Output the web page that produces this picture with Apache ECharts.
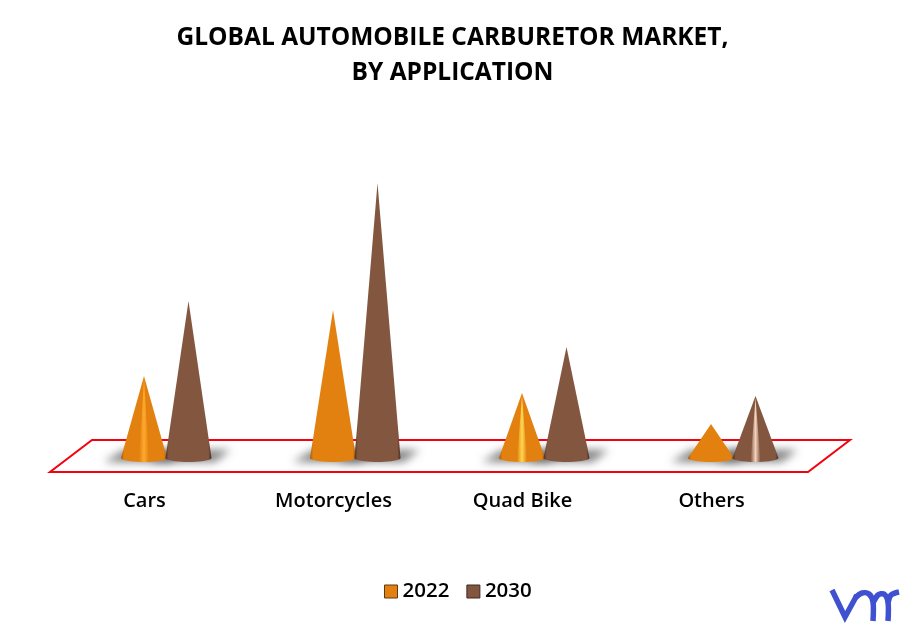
<!DOCTYPE html>
<html><head><meta charset="utf-8">
<style>html,body{margin:0;padding:0;background:#fff}#c{width:905px;height:624px}</style>
<script src="https://cdn.jsdelivr.net/npm/echarts@6/dist/echarts.min.js"></script>
</head><body><div id="c"></div>
<script>
const titleText = 'GLOBAL AUTOMOBILE CARBURETOR MARKET,\nBY APPLICATION';
const categories = ['Cars', 'Motorcycles', 'Quad Bike', 'Others'];
const values2022 = [27.3, 49.3, 21.7, 11.3];
const values2030 = [52.3, 91.7, 37.0, 20.7];
const shine2022 = [null, null, '#ffd84f', null];
const shine2030 = [null, null, null, '#f2d2bd'];
const softShine2022 = [ '#ffa92e', null, null, null ];
const FONT = '"Open Sans","Noto Sans",sans-serif';
const HALF = 23, RIM = 4, FAR = 3000;

function cone(palette, shine, soft, offset) {
  return function (params, api) {
    const i = api.value(0);
    const base = api.coord([i, 0]);
    const tip = api.coord([i, api.value(1)]);
    const cx = base[0] + offset, yb = base[1], yt = tip[1];
    const pts = [[cx, yt]];
    for (let k = 0; k <= 20; k++) {
      const a = k / 20 * Math.PI;
      pts.push([cx + HALF * Math.cos(a), yb + RIM * Math.sin(a)]);
    }
    const children = [{
      type: 'polygon', z2: 1,
      shape: { points: [[cx - 20 - FAR, yb - 8], [cx + 42 - FAR, yb - 8], [cx + 26 - FAR, yb + 4], [cx - 40 - FAR, yb + 4]] },
      style: { fill: '#666', shadowBlur: 8, shadowColor: 'rgba(100,100,100,0.8)', shadowOffsetX: FAR }
    }, {
      type: 'polygon', z2: 10 + offset,
      shape: { points: pts },
      style: { fill: new echarts.graphic.LinearGradient(0, 0, 1, 0, [
        { offset: 0, color: palette[1] }, { offset: 0.07, color: palette[0] },
        { offset: 0.93, color: palette[0] }, { offset: 1, color: palette[1] }
      ]) }
    }];
    const glow = shine[params.dataIndex] || soft[params.dataIndex];
    if (glow) {
      const sh = [[cx, yt + 2]];
      for (let k = 0; k <= 6; k++) {
        const a = (0.5 + (k / 6 - 0.5) * 0.14) * Math.PI;
        sh.push([cx + HALF * Math.cos(a), yb + RIM * Math.sin(a)]);
      }
      children.push({
        type: 'polygon', z2: 11 + offset,
        shape: { points: sh },
        style: { fill: new echarts.graphic.LinearGradient(0, 0, 1, 0, [
          { offset: 0, color: palette[0] }, { offset: 0.5, color: glow }, { offset: 1, color: palette[0] }
        ]) }
      });
    }
    return { type: 'group', children };
  };
}

const logoStyle = { fill: 'none', stroke: '#3f51d0', lineWidth: 5.5 };
const chart = echarts.init(document.getElementById('c'), null, { renderer: 'canvas' });
chart.setOption({
  animation: false,
  backgroundColor: '#fff',
  title: {
    text: titleText, left: 447.5, top: 16, textAlign: 'center',
    textStyle: { fontFamily: FONT, fontSize: 24.5, fontWeight: 700, color: '#000', lineHeight: 35 }
  },
  grid: { left: 50, width: 756, top: 158, height: 300 },
  xAxis: {
    type: 'category', data: categories,
    axisLine: { show: false }, axisTick: { show: false },
    axisLabel: { margin: 33, fontFamily: FONT, fontSize: 20, fontWeight: 600, color: '#000' }
  },
  yAxis: { type: 'value', min: 0, max: 100, show: false },
  legend: {
    bottom: 17, left: 379, itemWidth: 13, itemHeight: 13, itemGap: 17, icon: 'rect',
    textStyle: { fontFamily: FONT, fontSize: 20.5, fontWeight: 600, color: '#000' },
    data: [
      { name: '2022', itemStyle: { color: '#e28110', borderColor: '#5b3a12', borderWidth: 1 } },
      { name: '2030', itemStyle: { color: '#835640', borderColor: '#3f2a20', borderWidth: 1 } }
    ]
  },
  series: [
    { name: '2022', type: 'custom', z: 3, clip: false, itemStyle: { color: '#e28110' },
      data: values2022.map((v, i) => [i, v]),
      renderItem: cone(['#e28110', '#a05c0c'], shine2022, softShine2022, -0.5) },
    { name: '2030', type: 'custom', z: 3, clip: false, itemStyle: { color: '#835640' },
      data: values2030.map((v, i) => [i, v]),
      renderItem: cone(['#835640', '#4a3024'], shine2030, [null, null, null, null], 44) }
  ],
  graphic: [
    { type: 'polygon', z: 1, shape: { points: [[50, 472], [808, 472], [850, 440], [92, 440]] },
      style: { fill: '#fff', stroke: '#f5000f', lineWidth: 2 } },
    { type: 'polyline', z: 5, shape: { points: [[832, 590], [845, 617], [857, 595]] }, style: logoStyle },
    { type: 'polyline', z: 5, shape: { points: [[855, 598], [862, 593], [869, 594], [873, 602], [873, 621]], smooth: 0.3 }, style: logoStyle },
    { type: 'polyline', z: 5, shape: { points: [[873, 603], [878, 595], [884, 594], [888, 602], [888, 621]], smooth: 0.3 }, style: logoStyle },
    { type: 'polyline', z: 5, shape: { points: [[888, 603], [891, 595], [899, 592]], smooth: 0.3 }, style: logoStyle }
  ]
});
</script></body></html>
